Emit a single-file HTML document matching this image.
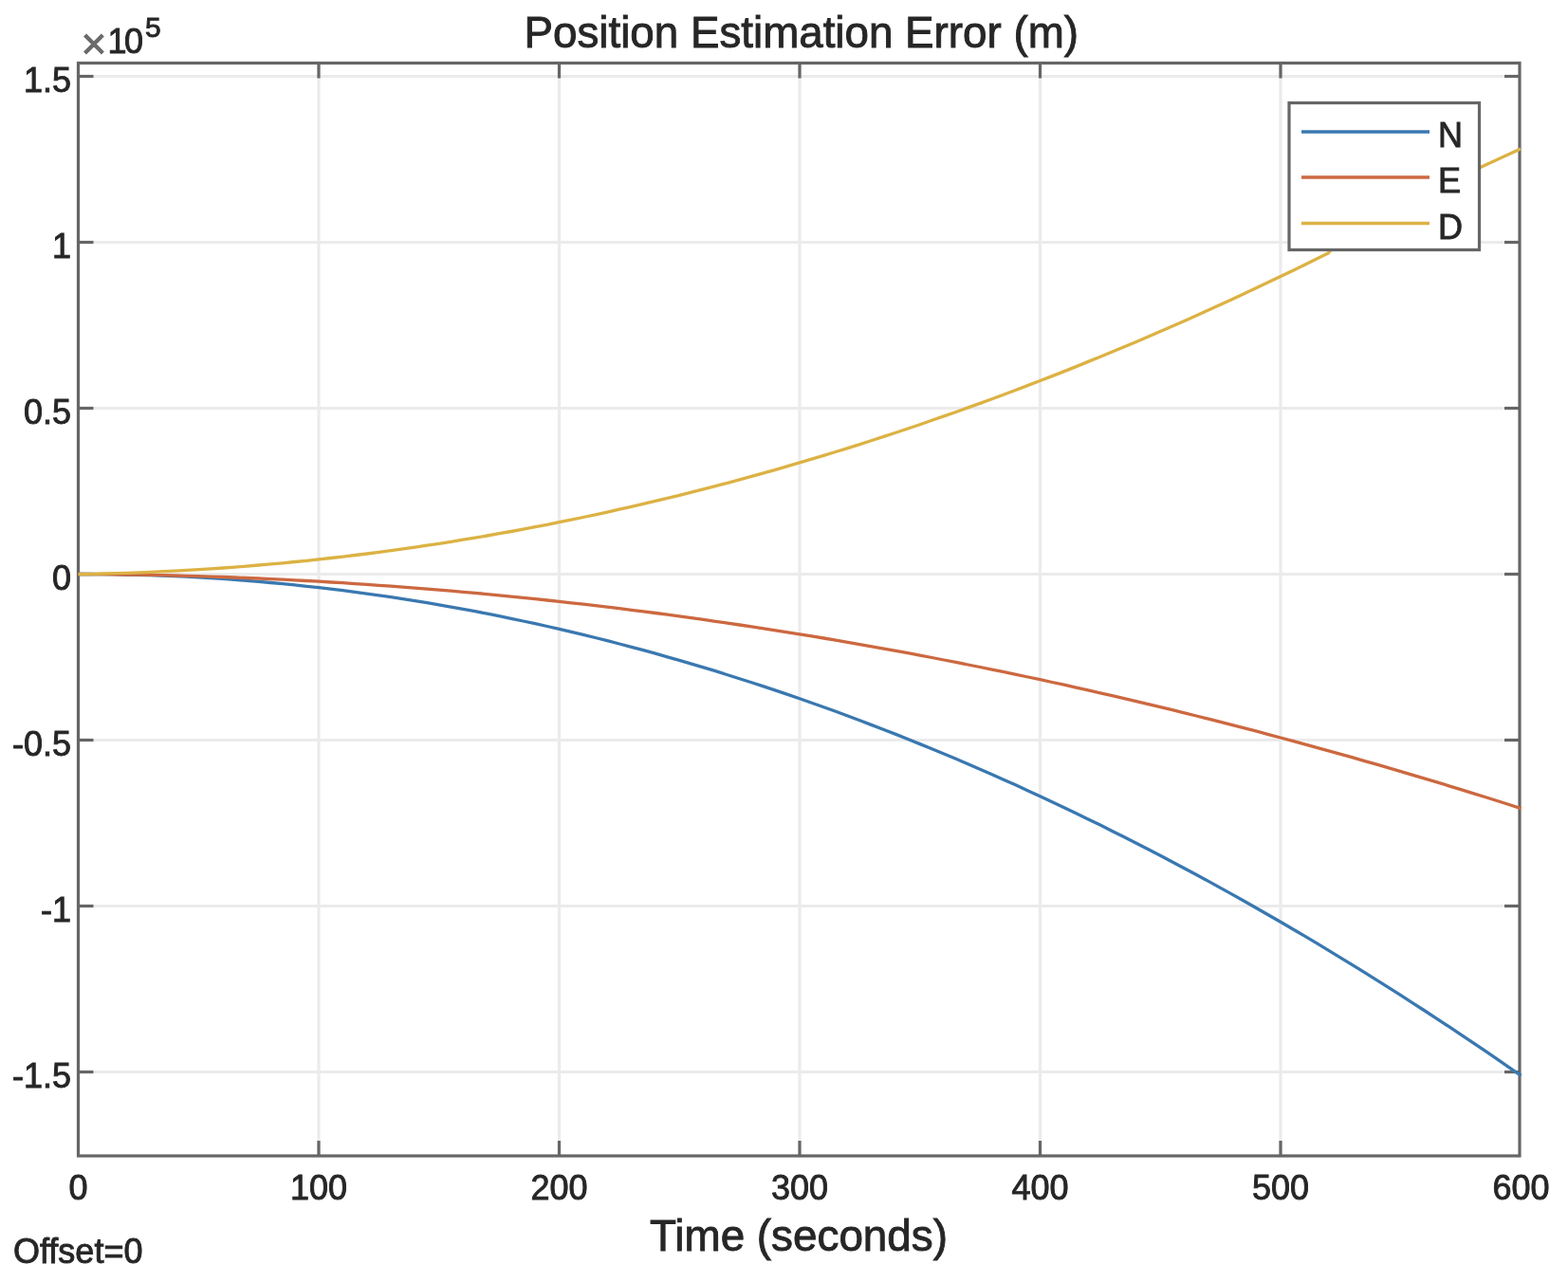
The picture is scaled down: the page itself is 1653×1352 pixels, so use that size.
<!DOCTYPE html>
<html><head><meta charset="utf-8"><title>Position Estimation Error (m)</title>
<style>
html,body{margin:0;padding:0;background:#fff;}
body{width:1653px;height:1352px;overflow:hidden;}
svg{display:block;}
text{font-family:"Liberation Sans",Arial,Helvetica,sans-serif;fill:#262626;stroke:#262626;stroke-width:0.9px;paint-order:stroke;}
</style></head><body>
<svg width="1653" height="1352" viewBox="0 0 1653 1352">
<rect x="0" y="0" width="1653" height="1352" fill="#fff"/>
<g stroke="#ebebeb" stroke-width="3.2"><line x1="336.0" y1="66.5" x2="336.0" y2="1219"/><line x1="589.5" y1="66.5" x2="589.5" y2="1219"/><line x1="843.0" y1="66.5" x2="843.0" y2="1219"/><line x1="1096.5" y1="66.5" x2="1096.5" y2="1219"/><line x1="1350.0" y1="66.5" x2="1350.0" y2="1219"/><line x1="82.5" y1="1130.5" x2="1602" y2="1130.5"/><line x1="82.5" y1="955.5" x2="1602" y2="955.5"/><line x1="82.5" y1="780.5" x2="1602" y2="780.5"/><line x1="82.5" y1="605.5" x2="1602" y2="605.5"/><line x1="82.5" y1="430.5" x2="1602" y2="430.5"/><line x1="82.5" y1="255.5" x2="1602" y2="255.5"/><line x1="82.5" y1="80.5" x2="1602" y2="80.5"/></g>
<g stroke="#666666" stroke-width="3.2"><line x1="336.0" y1="1219" x2="336.0" y2="1203"/><line x1="336.0" y1="66.5" x2="336.0" y2="82.5"/><line x1="589.5" y1="1219" x2="589.5" y2="1203"/><line x1="589.5" y1="66.5" x2="589.5" y2="82.5"/><line x1="843.0" y1="1219" x2="843.0" y2="1203"/><line x1="843.0" y1="66.5" x2="843.0" y2="82.5"/><line x1="1096.5" y1="1219" x2="1096.5" y2="1203"/><line x1="1096.5" y1="66.5" x2="1096.5" y2="82.5"/><line x1="1350.0" y1="1219" x2="1350.0" y2="1203"/><line x1="1350.0" y1="66.5" x2="1350.0" y2="82.5"/><line x1="82.5" y1="1130.5" x2="98.5" y2="1130.5"/><line x1="1602" y1="1130.5" x2="1586" y2="1130.5"/><line x1="82.5" y1="955.5" x2="98.5" y2="955.5"/><line x1="1602" y1="955.5" x2="1586" y2="955.5"/><line x1="82.5" y1="780.5" x2="98.5" y2="780.5"/><line x1="1602" y1="780.5" x2="1586" y2="780.5"/><line x1="82.5" y1="605.5" x2="98.5" y2="605.5"/><line x1="1602" y1="605.5" x2="1586" y2="605.5"/><line x1="82.5" y1="430.5" x2="98.5" y2="430.5"/><line x1="1602" y1="430.5" x2="1586" y2="430.5"/><line x1="82.5" y1="255.5" x2="98.5" y2="255.5"/><line x1="1602" y1="255.5" x2="1586" y2="255.5"/><line x1="82.5" y1="80.5" x2="98.5" y2="80.5"/><line x1="1602" y1="80.5" x2="1586" y2="80.5"/></g>
<rect x="82.5" y="66.5" width="1519.5" height="1152.5" fill="none" stroke="#666666" stroke-width="3.2"/>
<g fill="none" stroke-width="3.3" stroke-linejoin="round" stroke-linecap="butt">
<path stroke="#3a78b0" d="M82.5,605.5 L95.2,605.5 L107.8,605.6 L120.5,605.7 L133.2,606.0 L145.9,606.3 L158.6,606.6 L171.2,607.1 L183.9,607.6 L196.6,608.2 L209.2,608.9 L221.9,609.6 L234.6,610.4 L247.3,611.3 L260.0,612.3 L272.6,613.4 L285.3,614.5 L298.0,615.7 L310.6,616.9 L323.3,618.3 L336.0,619.7 L348.7,621.2 L361.4,622.7 L374.0,624.3 L386.7,626.1 L399.4,627.8 L412.1,629.7 L424.7,631.6 L437.4,633.6 L450.1,635.7 L462.8,637.9 L475.4,640.1 L488.1,642.4 L500.8,644.7 L513.5,647.2 L526.1,649.7 L538.8,652.3 L551.5,655.0 L564.2,657.7 L576.8,660.5 L589.5,663.4 L602.2,666.4 L614.9,669.4 L627.5,672.5 L640.2,675.7 L652.9,679.0 L665.6,682.3 L678.2,685.7 L690.9,689.2 L703.6,692.8 L716.2,696.4 L728.9,700.1 L741.6,703.9 L754.3,707.7 L767.0,711.7 L779.6,715.7 L792.3,719.8 L805.0,723.9 L817.7,728.1 L830.3,732.4 L843.0,736.8 L855.7,741.2 L868.4,745.8 L881.0,750.3 L893.7,755.0 L906.4,759.8 L919.1,764.6 L931.7,769.5 L944.4,774.4 L957.1,779.5 L969.8,784.6 L982.4,789.8 L995.1,795.0 L1007.8,800.3 L1020.5,805.8 L1033.1,811.2 L1045.8,816.8 L1058.5,822.4 L1071.2,828.1 L1083.8,833.9 L1096.5,839.7 L1109.2,845.7 L1121.9,851.7 L1134.5,857.7 L1147.2,863.9 L1159.9,870.1 L1172.5,876.4 L1185.2,882.8 L1197.9,889.2 L1210.6,895.7 L1223.2,902.3 L1235.9,909.0 L1248.6,915.7 L1261.3,922.5 L1274.0,929.4 L1286.6,936.4 L1299.3,943.4 L1312.0,950.5 L1324.7,957.7 L1337.3,965.0 L1350.0,972.3 L1362.7,979.7 L1375.4,987.2 L1388.0,994.7 L1400.7,1002.4 L1413.4,1010.1 L1426.1,1017.8 L1438.7,1025.7 L1451.4,1033.6 L1464.1,1041.6 L1476.8,1049.7 L1489.4,1057.8 L1502.1,1066.0 L1514.8,1074.3 L1527.5,1082.7 L1540.1,1091.1 L1552.8,1099.7 L1565.5,1108.2 L1578.2,1116.9 L1590.8,1125.6 L1603.5,1134.4"/>
<path stroke="#cc6840" d="M82.5,605.5 L95.2,605.6 L107.8,605.7 L120.5,605.8 L133.2,606.0 L145.9,606.2 L158.6,606.4 L171.2,606.7 L183.9,607.0 L196.6,607.3 L209.2,607.7 L221.9,608.1 L234.6,608.5 L247.3,609.0 L260.0,609.5 L272.6,610.0 L285.3,610.6 L298.0,611.2 L310.6,611.9 L323.3,612.5 L336.0,613.2 L348.7,614.0 L361.4,614.7 L374.0,615.6 L386.7,616.4 L399.4,617.3 L412.1,618.2 L424.7,619.1 L437.4,620.1 L450.1,621.1 L462.8,622.1 L475.4,623.2 L488.1,624.3 L500.8,625.4 L513.5,626.6 L526.1,627.8 L538.8,629.1 L551.5,630.3 L564.2,631.6 L576.8,633.0 L589.5,634.4 L602.2,635.8 L614.9,637.2 L627.5,638.7 L640.2,640.2 L652.9,641.7 L665.6,643.3 L678.2,644.9 L690.9,646.5 L703.6,648.2 L716.2,649.9 L728.9,651.7 L741.6,653.4 L754.3,655.3 L767.0,657.1 L779.6,659.0 L792.3,660.9 L805.0,662.8 L817.7,664.8 L830.3,666.8 L843.0,668.8 L855.7,670.9 L868.4,673.0 L881.0,675.2 L893.7,677.4 L906.4,679.6 L919.1,681.8 L931.7,684.1 L944.4,686.4 L957.1,688.7 L969.8,691.1 L982.4,693.5 L995.1,696.0 L1007.8,698.4 L1020.5,701.0 L1033.1,703.5 L1045.8,706.1 L1058.5,708.7 L1071.2,711.3 L1083.8,714.0 L1096.5,716.7 L1109.2,719.5 L1121.9,722.2 L1134.5,725.1 L1147.2,727.9 L1159.9,730.8 L1172.5,733.7 L1185.2,736.6 L1197.9,739.6 L1210.6,742.6 L1223.2,745.7 L1235.9,748.7 L1248.6,751.9 L1261.3,755.0 L1274.0,758.2 L1286.6,761.4 L1299.3,764.6 L1312.0,767.9 L1324.7,771.2 L1337.3,774.6 L1350.0,778.0 L1362.7,781.4 L1375.4,784.8 L1388.0,788.3 L1400.7,791.8 L1413.4,795.4 L1426.1,798.9 L1438.7,802.6 L1451.4,806.2 L1464.1,809.9 L1476.8,813.6 L1489.4,817.4 L1502.1,821.1 L1514.8,824.9 L1527.5,828.8 L1540.1,832.7 L1552.8,836.6 L1565.5,840.5 L1578.2,844.5 L1590.8,848.5 L1603.5,852.6"/>
<path stroke="#dcb244" d="M82.5,605.5 L95.2,605.3 L107.8,605.0 L120.5,604.7 L133.2,604.3 L145.9,603.8 L158.6,603.3 L171.2,602.7 L183.9,602.1 L196.6,601.4 L209.2,600.7 L221.9,599.9 L234.6,599.0 L247.3,598.1 L260.0,597.1 L272.6,596.0 L285.3,594.9 L298.0,593.8 L310.6,592.5 L323.3,591.3 L336.0,589.9 L348.7,588.5 L361.4,587.1 L374.0,585.5 L386.7,584.0 L399.4,582.3 L412.1,580.6 L424.7,578.9 L437.4,577.1 L450.1,575.2 L462.8,573.3 L475.4,571.3 L488.1,569.2 L500.8,567.1 L513.5,565.0 L526.1,562.7 L538.8,560.5 L551.5,558.1 L564.2,555.7 L576.8,553.3 L589.5,550.7 L602.2,548.2 L614.9,545.5 L627.5,542.8 L640.2,540.1 L652.9,537.2 L665.6,534.4 L678.2,531.4 L690.9,528.4 L703.6,525.4 L716.2,522.3 L728.9,519.1 L741.6,515.9 L754.3,512.6 L767.0,509.3 L779.6,505.9 L792.3,502.4 L805.0,498.9 L817.7,495.3 L830.3,491.6 L843.0,487.9 L855.7,484.2 L868.4,480.4 L881.0,476.5 L893.7,472.6 L906.4,468.6 L919.1,464.5 L931.7,460.4 L944.4,456.2 L957.1,452.0 L969.8,447.7 L982.4,443.3 L995.1,438.9 L1007.8,434.5 L1020.5,429.9 L1033.1,425.4 L1045.8,420.7 L1058.5,416.0 L1071.2,411.2 L1083.8,406.4 L1096.5,401.5 L1109.2,396.6 L1121.9,391.6 L1134.5,386.6 L1147.2,381.4 L1159.9,376.3 L1172.5,371.0 L1185.2,365.7 L1197.9,360.4 L1210.6,355.0 L1223.2,349.5 L1235.9,344.0 L1248.6,338.4 L1261.3,332.7 L1274.0,327.0 L1286.6,321.3 L1299.3,315.4 L1312.0,309.6 L1324.7,303.6 L1337.3,297.6 L1350.0,291.6 L1362.7,285.4 L1375.4,279.3 L1388.0,273.0 L1400.7,266.7 L1402.0,264.6 L1559.5,177.0 L1603.0,157.0"/>
</g>
<g font-size="36"><text x="82.5" y="1265" text-anchor="middle">0</text><text x="336.0" y="1265" text-anchor="middle">100</text><text x="589.5" y="1265" text-anchor="middle">200</text><text x="843.0" y="1265" text-anchor="middle">300</text><text x="1096.5" y="1265" text-anchor="middle">400</text><text x="1350.0" y="1265" text-anchor="middle">500</text><text x="1603.5" y="1265" text-anchor="middle">600</text><text x="75" y="97.0" text-anchor="end">1.5</text><text x="75" y="272.0" text-anchor="end">1</text><text x="75" y="447.0" text-anchor="end">0.5</text><text x="75" y="622.0" text-anchor="end">0</text><text x="75" y="797.0" text-anchor="end">-0.5</text><text x="75" y="972.0" text-anchor="end">-1</text><text x="75" y="1147.0" text-anchor="end">-1.5</text></g>
<text x="99" y="61.5" font-size="46" text-anchor="middle" style="fill:#6a6a6a;stroke:#6a6a6a">×</text><text x="113.5" y="56" font-size="36" textLength="37.5" lengthAdjust="spacing">10</text><text x="153" y="38.5" font-size="30">5</text>
<text x="844.75" y="49.6" font-size="46" text-anchor="middle" textLength="584.5" lengthAdjust="spacingAndGlyphs">Position Estimation Error (m)</text>
<text x="842" y="1319" font-size="46" text-anchor="middle" textLength="314" lengthAdjust="spacingAndGlyphs">Time (seconds)</text>
<text x="14" y="1331.5" font-size="36">Offset=0</text>
<rect x="1359" y="108.5" width="200.5" height="155.0" fill="#fff" stroke="#666666" stroke-width="3.2"/>
<line x1="1372" y1="139" x2="1507" y2="139" stroke="#3a78b0" stroke-width="3.3"/><text x="1516" y="155" font-size="36">N</text>
<line x1="1372" y1="187" x2="1507" y2="187" stroke="#cc6840" stroke-width="3.3"/><text x="1516" y="203" font-size="36">E</text>
<line x1="1372" y1="235.5" x2="1507" y2="235.5" stroke="#dcb244" stroke-width="3.3"/><text x="1516" y="251.5" font-size="36">D</text>
</svg>
</body></html>
